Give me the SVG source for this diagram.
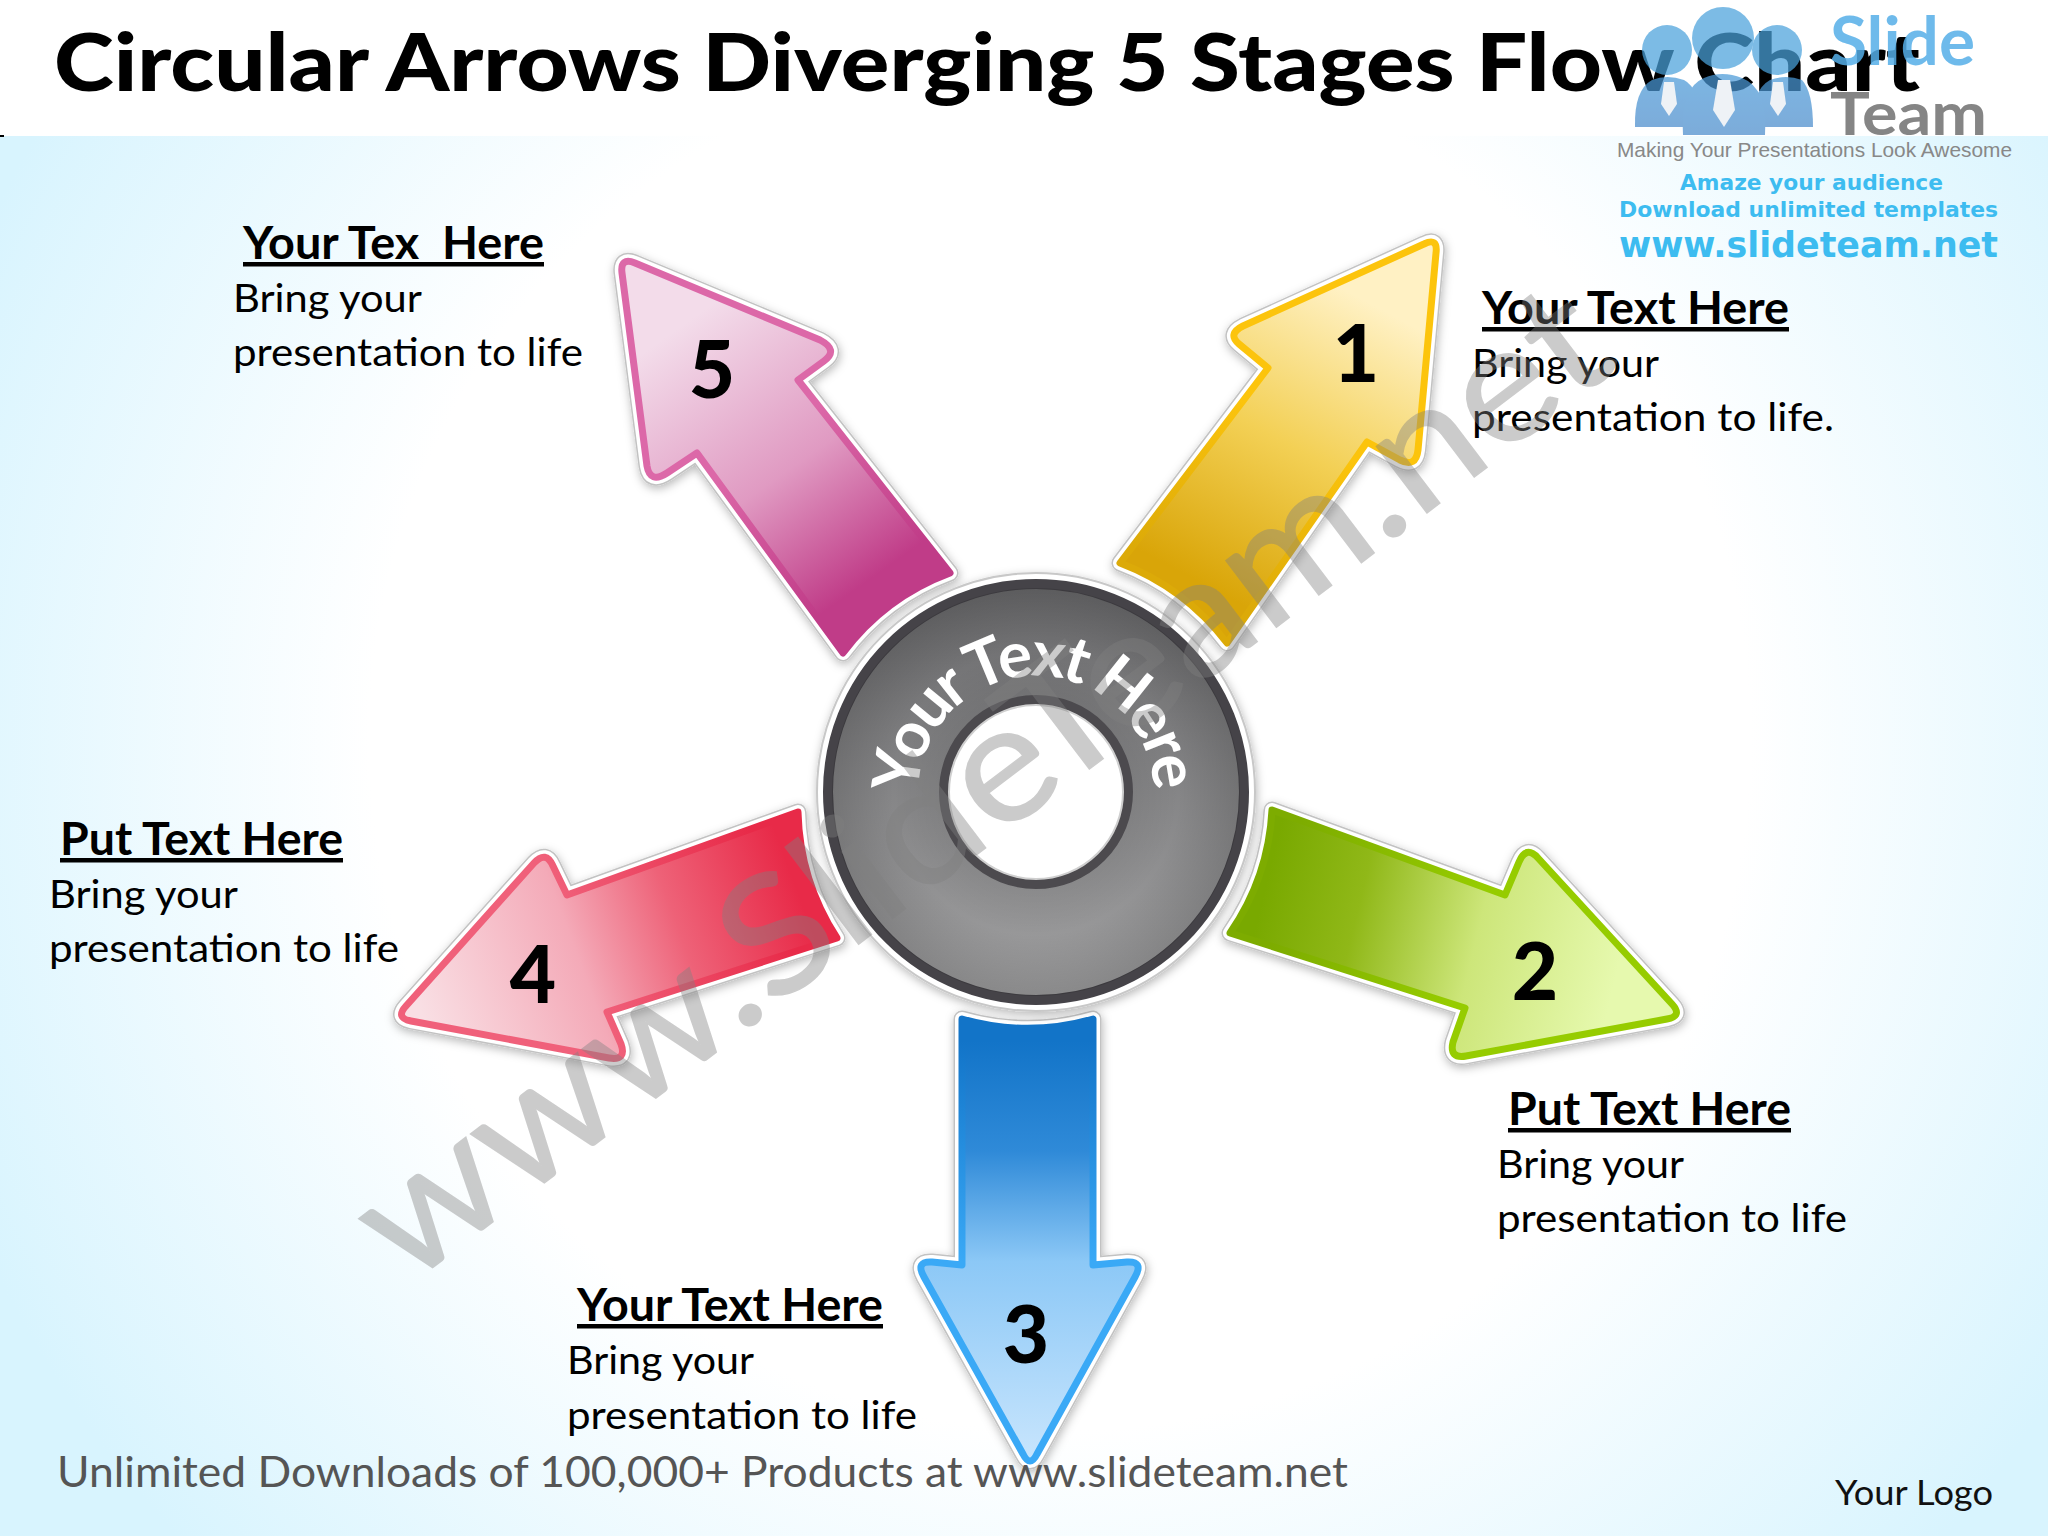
<svg xmlns="http://www.w3.org/2000/svg" width="2048" height="1536" viewBox="0 0 2048 1536">
<style>
.title{font:900 80px Lato,"Liberation Sans",sans-serif;fill:#000}
.h{font:700 45px Lato,"Liberation Sans",sans-serif;fill:#000;text-decoration:underline;white-space:pre}
.b{font:400 39px Lato,"Liberation Sans",sans-serif;fill:#000}
.n{font:900 80px Lato,"Liberation Sans",sans-serif;fill:#000;text-anchor:middle}
.halo1{fill:none;stroke:#c2c2c2;stroke-width:17;stroke-linejoin:round;filter:url(#sh)}
.halo2{fill:none;stroke:#fff;stroke-width:14;stroke-linejoin:round}
.body{stroke-width:7;stroke-linejoin:round}
.foot{font:400 42px Lato,"Liberation Sans",sans-serif;fill:#555}
.wm{font:400 165px Lato,"Liberation Sans",sans-serif;fill:#808080;stroke:#808080;stroke-width:1.5;opacity:.4}
.lg{font-family:"DejaVu Sans","Liberation Sans",sans-serif;font-weight:700;fill:#3dbcf0}
</style>
<defs>
<radialGradient id="bg" gradientUnits="userSpaceOnUse" cx="1060" cy="740" r="1190">
<stop offset=".58" stop-color="#fff"/><stop offset="1" stop-color="#d8f4fe"/>
</radialGradient>
<radialGradient id="shade" gradientUnits="userSpaceOnUse" cx="1036" cy="792" r="204">
<stop offset=".45" stop-color="#000" stop-opacity=".06"/><stop offset=".7" stop-color="#000" stop-opacity="0"/><stop offset="1" stop-color="#000" stop-opacity=".14"/>
</radialGradient>
<filter id="sh" x="-20%" y="-20%" width="140%" height="140%"><feDropShadow dx="1" dy="3" stdDeviation="5" flood-color="#000" flood-opacity=".28"/></filter>
<linearGradient id="f1" gradientUnits="userSpaceOnUse" x1="1175" y1="610" x2="1345" y2="290">
<stop offset=".1" stop-color="#d9a508"/><stop offset=".55" stop-color="#f3d055"/><stop offset="1" stop-color="#fff1c4"/></linearGradient>
<linearGradient id="s1" gradientUnits="userSpaceOnUse" x1="1175" y1="610" x2="1345" y2="290">
<stop offset=".1" stop-color="#dcaa08"/><stop offset=".6" stop-color="#fcc40c"/></linearGradient>
<linearGradient id="f2" gradientUnits="userSpaceOnUse" x1="1250" y1="870" x2="1620" y2="960">
<stop offset=".05" stop-color="#79a900"/><stop offset=".3" stop-color="#90b818"/><stop offset=".62" stop-color="#cde67a"/><stop offset="1" stop-color="#e6f9ae"/></linearGradient>
<linearGradient id="s2" gradientUnits="userSpaceOnUse" x1="1250" y1="870" x2="1620" y2="960">
<stop offset=".1" stop-color="#7dac00"/><stop offset=".6" stop-color="#96cc00"/></linearGradient>
<linearGradient id="f3" gradientUnits="userSpaceOnUse" x1="1030" y1="1019" x2="1030" y2="1460">
<stop offset=".05" stop-color="#1274c8"/><stop offset=".3" stop-color="#2f8ad8"/><stop offset=".55" stop-color="#8cc8f6"/><stop offset="1" stop-color="#c8e5fd"/></linearGradient>
<linearGradient id="s3" gradientUnits="userSpaceOnUse" x1="1030" y1="1019" x2="1030" y2="1460">
<stop offset=".05" stop-color="#1274c8"/><stop offset=".55" stop-color="#3aa9f6"/></linearGradient>
<linearGradient id="f4" gradientUnits="userSpaceOnUse" x1="810" y1="865" x2="420" y2="1010">
<stop offset=".05" stop-color="#e82a48"/><stop offset=".35" stop-color="#ee6278"/><stop offset=".6" stop-color="#f4aab8"/><stop offset="1" stop-color="#f9dfe4"/></linearGradient>
<linearGradient id="s4" gradientUnits="userSpaceOnUse" x1="810" y1="865" x2="420" y2="1010">
<stop offset=".1" stop-color="#e82a48"/><stop offset=".6" stop-color="#f0607a"/></linearGradient>
<linearGradient id="f5" gradientUnits="userSpaceOnUse" x1="897" y1="613" x2="690" y2="320">
<stop offset=".12" stop-color="#c03c88"/><stop offset=".5" stop-color="#e09ac2"/><stop offset="1" stop-color="#f3dcea"/></linearGradient>
<linearGradient id="s5" gradientUnits="userSpaceOnUse" x1="897" y1="613" x2="690" y2="320">
<stop offset=".12" stop-color="#c03c88"/><stop offset=".6" stop-color="#dc68a8"/></linearGradient>
<linearGradient id="tyre" x1="0" y1="0" x2="0" y2="1">
<stop offset="0" stop-color="#6a6a6c"/><stop offset="1" stop-color="#a0a0a1"/></linearGradient>
<linearGradient id="ppl" x1="0" y1="0" x2="0" y2="1">
<stop offset="0" stop-color="#4a9ad8"/><stop offset="1" stop-color="#4a8ccc"/></linearGradient>
<path id="a1" d="M1424 244L1243 326Q1227 334 1239 344L1268 368L1120 563A243 243 0 0 1 1227 643L1367 442L1400 460Q1416 468 1418 450L1436 253Q1438 237 1424 244Z"/>
<path id="a2" d="M1272 810L1505 895L1519 862Q1526 845 1538 858L1672 1004Q1683 1016 1667 1019L1466 1056Q1449 1059 1453 1042L1465 1008L1230 933A238 238 0 0 0 1272 810Z"/>
<path id="a3" d="M962 1019A238 238 0 0 0 1093 1019L1093 1265L1127 1262Q1144 1261 1135 1277L1037 1454Q1030 1468 1023 1454L924 1277Q915 1261 932 1262L962 1265Z"/>
<path id="a4" d="M798 812L567 895L553 866Q546 850 534 863L406 1006Q395 1018 411 1021L609 1058Q627 1061 621 1044L607 1012L837 938A243 243 0 0 1 798 812Z"/>
<path id="a5" d="M635 263L820 340Q839 350 824 361L798 380L950 573A237 237 0 0 0 843 653L697 453L667 473Q650 484 647 466L622 273Q620 257 635 263Z"/>
<path id="ringText" d="M918 794A118 118 0 0 1 1154 794"/>
</defs>

<rect id="background" width="2048" height="1536" fill="url(#bg)"/>
<rect id="header" width="2048" height="136" fill="#fff"/>
<rect x="0" y="135" width="4" height="2" fill="#000"/>
<text id="title" class="title" x="54" y="91" textLength="1866" lengthAdjust="spacingAndGlyphs">Circular Arrows Diverging 5 Stages Flow Chart</text>

<g id="arrow1"><use href="#a1" class="halo1"/><use href="#a1" class="halo2"/><use href="#a1" class="body" fill="url(#f1)" stroke="url(#s1)"/><text class="n" x="1356" y="382">1</text></g>
<g id="arrow2"><use href="#a2" class="halo1"/><use href="#a2" class="halo2"/><use href="#a2" class="body" fill="url(#f2)" stroke="url(#s2)"/><text class="n" x="1535" y="1000">2</text></g>
<g id="arrow3"><use href="#a3" class="halo1"/><use href="#a3" class="halo2"/><use href="#a3" class="body" fill="url(#f3)" stroke="url(#s3)"/><text class="n" x="1026" y="1363">3</text></g>
<g id="arrow4"><use href="#a4" class="halo1"/><use href="#a4" class="halo2"/><use href="#a4" class="body" fill="url(#f4)" stroke="url(#s4)"/><text class="n" x="533" y="1003">4</text></g>
<g id="arrow5"><use href="#a5" class="halo1"/><use href="#a5" class="halo2"/><use href="#a5" class="body" fill="url(#f5)" stroke="url(#s5)"/><text class="n" x="712" y="398">5</text></g>

<g id="hub">
<circle cx="1036" cy="792" r="219" fill="#fff" stroke="#c8c8c8" stroke-width="2" filter="url(#sh)"/>
<circle cx="1036" cy="792" r="208" fill="url(#tyre)" stroke="#454348" stroke-width="10"/>
<circle cx="1036" cy="792" r="204" fill="url(#shade)"/>
<circle cx="1036" cy="792" r="92" fill="#fff" stroke="#4c4a4e" stroke-width="10"/>
<circle cx="1036" cy="792" r="87" fill="#fff" stroke="#cfcfcf" stroke-width="2"/>
<text font-family="Lato,'Liberation Sans',sans-serif" font-weight="700" font-size="64" fill="#fff"><textPath href="#ringText" textLength="368" lengthAdjust="spacing">Your Text Here</textPath></text>
</g>

<g id="label1"><text class="h" x="1482" y="324" textLength="307" lengthAdjust="spacingAndGlyphs">Your Text Here</text><text class="b" x="1472" y="377" textLength="187" lengthAdjust="spacingAndGlyphs">Bring your</text><text class="b" x="1472" y="431" textLength="362" lengthAdjust="spacingAndGlyphs">presentation to life.</text></g>
<g id="label2"><text class="h" x="1508" y="1125" textLength="283" lengthAdjust="spacingAndGlyphs">Put Text Here</text><text class="b" x="1497" y="1178" textLength="187" lengthAdjust="spacingAndGlyphs">Bring your</text><text class="b" x="1497" y="1232" textLength="350" lengthAdjust="spacingAndGlyphs">presentation to life</text></g>
<g id="label3"><text class="h" x="577" y="1321" textLength="306" lengthAdjust="spacingAndGlyphs">Your Text Here</text><text class="b" x="567" y="1374" textLength="187" lengthAdjust="spacingAndGlyphs">Bring your</text><text class="b" x="567" y="1429" textLength="350" lengthAdjust="spacingAndGlyphs">presentation to life</text></g>
<g id="label4"><text class="h" x="60" y="855" textLength="283" lengthAdjust="spacingAndGlyphs">Put Text Here</text><text class="b" x="49" y="908" textLength="189" lengthAdjust="spacingAndGlyphs">Bring your</text><text class="b" x="49" y="962" textLength="350" lengthAdjust="spacingAndGlyphs">presentation to life</text></g>
<g id="label5"><text class="h" x="243" y="259" textLength="301" lengthAdjust="spacingAndGlyphs">Your Tex  Here</text><text class="b" x="233" y="312" textLength="189" lengthAdjust="spacingAndGlyphs">Bring your</text><text class="b" x="233" y="366" textLength="350" lengthAdjust="spacingAndGlyphs">presentation to life</text></g>

<text id="footer" class="foot" x="57" y="1487" textLength="1291" lengthAdjust="spacingAndGlyphs">Unlimited Downloads of 100,000+ Products at www.slideteam.net</text>
<text id="yourlogo" font-family="Lato,'Liberation Sans',sans-serif" font-size="34" fill="#111" x="1835" y="1505" textLength="158" lengthAdjust="spacingAndGlyphs">Your Logo</text>

<g id="logo">
<g opacity=".72">
<path d="M1635 127Q1634 90 1652 80Q1667 74 1684 80Q1700 88 1702 127Z" fill="url(#ppl)"/>
<path d="M1751 127Q1752 90 1770 80Q1786 74 1802 80Q1813 92 1813 127Z" fill="url(#ppl)"/>
<circle cx="1667" cy="50" r="25" fill="#4aa2dc"/>
<circle cx="1777" cy="50" r="25" fill="#4aa2dc"/>
<circle cx="1723" cy="38" r="31" fill="#4aa2dc"/>
<path d="M1683 135Q1680 88 1704 78Q1722 70 1742 78Q1768 88 1765 135Z" fill="url(#ppl)"/>
</g>
<path d="M1664 82h10l3 22-8 12-8-12Z" fill="#eef2f6"/>
<path d="M1718 80h12l5 30-11 17-11-17Z" fill="#eef2f6"/>
<path d="M1773 82h10l3 22-8 12-8-12Z" fill="#eef2f6"/>
<text x="1830" y="65" font-family="Lato,'Liberation Sans',sans-serif" font-weight="700" font-size="66" fill="#55aee8" fill-opacity=".85" textLength="145" lengthAdjust="spacingAndGlyphs">Slide</text>
<text x="1830" y="135" font-family="Lato,'Liberation Sans',sans-serif" font-weight="700" font-size="60" fill="#858585" textLength="157" lengthAdjust="spacingAndGlyphs">Team</text>
<text x="1617" y="157" font-family="'Liberation Sans',sans-serif" font-size="21" fill="#888" textLength="395" lengthAdjust="spacingAndGlyphs">Making Your Presentations Look Awesome</text>
<text class="lg" x="1680" y="190" font-size="22" textLength="263" lengthAdjust="spacingAndGlyphs">Amaze your audience</text>
<text class="lg" x="1619" y="217" font-size="22" textLength="379" lengthAdjust="spacingAndGlyphs">Download unlimited templates</text>
<text class="lg" x="1619" y="257" font-size="36" textLength="379" lengthAdjust="spacingAndGlyphs">www.slideteam.net</text>
</g>

<text id="watermark" class="wm" transform="translate(407 1287) rotate(-37.2)" x="0" y="0" textLength="1525" lengthAdjust="spacingAndGlyphs">www.SlideTeam.net</text>
</svg>
